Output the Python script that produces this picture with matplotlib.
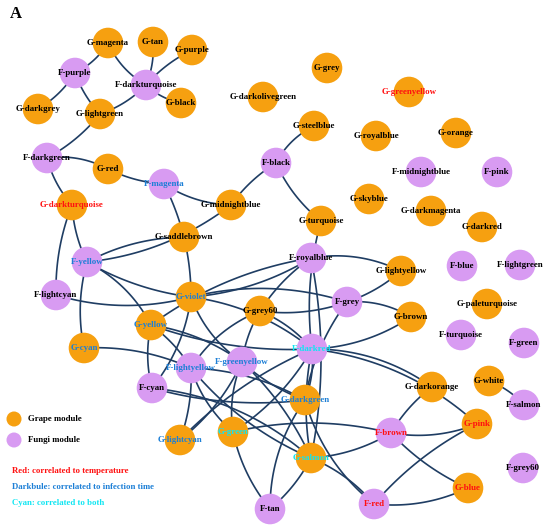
import numpy as np
import matplotlib
matplotlib.use("Agg")
import matplotlib.pyplot as plt
from matplotlib.patches import Circle

# Grape (G-) and fungi (F-) co-expression modules
grape_modules = [
    "G-magenta", "G-tan", "G-purple", "G-black", "G-darkgrey", "G-lightgreen",
    "G-red", "G-darkturquoise", "G-midnightblue", "G-saddlebrown", "G-darkolivegreen",
    "G-grey", "G-greenyellow", "G-steelblue", "G-royalblue", "G-orange", "G-skyblue",
    "G-darkmagenta", "G-darkred", "G-turquoise", "G-lightyellow", "G-brown",
    "G-paleturquoise", "G-darkorange", "G-white", "G-darkgreen", "G-pink", "G-salmon",
    "G-blue", "G-violet", "G-grey60", "G-yellow", "G-cyan", "G-green", "G-lightcyan",
]
fungi_modules = [
    "F-purple", "F-darkturquoise", "F-darkgreen", "F-magenta", "F-black",
    "F-midnightblue", "F-pink", "F-royalblue", "F-blue", "F-lightgreen", "F-grey",
    "F-turquoise", "F-green", "F-darkred", "F-salmon", "F-brown", "F-grey60", "F-red",
    "F-tan", "F-yellow", "F-lightcyan", "F-greenyellow", "F-lightyellow", "F-cyan",
]

# modules correlated to a trait (label colour)
temperature_modules = ["G-greenyellow", "G-darkturquoise", "F-brown", "G-pink", "F-red", "G-blue"]
infection_modules = ["F-magenta", "F-yellow", "G-violet", "G-yellow", "G-cyan", "F-lightyellow",
                     "F-greenyellow", "G-lightcyan", "G-darkgreen"]
both_modules = ["F-darkred", "G-green", "G-salmon"]

# correlations between grape and fungi modules
edges = [
    ("F-purple", "G-magenta"), ("F-purple", "G-darkgrey"), ("F-purple", "G-lightgreen"),
    ("F-darkturquoise", "G-magenta"), ("F-darkturquoise", "G-tan"), ("F-darkturquoise", "G-purple"),
    ("F-darkturquoise", "G-black"), ("F-darkturquoise", "G-lightgreen"),
    ("F-darkgreen", "G-lightgreen"), ("F-darkgreen", "G-red"), ("F-darkgreen", "G-darkturquoise"),
    ("F-magenta", "G-red"), ("F-magenta", "G-midnightblue"), ("F-magenta", "G-violet"),
    ("F-black", "G-midnightblue"), ("F-black", "G-steelblue"), ("F-black", "G-turquoise"),
    ("F-yellow", "G-darkturquoise"), ("F-yellow", "G-midnightblue"), ("F-yellow", "G-saddlebrown"),
    ("F-yellow", "G-violet"), ("F-yellow", "G-yellow"), ("F-yellow", "G-cyan"),
    ("F-lightcyan", "G-darkturquoise"), ("F-lightcyan", "G-violet"),
    ("F-royalblue", "G-violet"), ("F-royalblue", "G-grey60"), ("F-royalblue", "G-lightyellow"),
    ("F-royalblue", "G-yellow"), ("F-royalblue", "G-salmon"),
    ("F-grey", "G-violet"), ("F-grey", "G-grey60"), ("F-grey", "G-lightyellow"),
    ("F-grey", "G-brown"), ("F-grey", "G-darkgreen"),
    ("F-darkred", "G-turquoise"), ("F-darkred", "G-brown"), ("F-darkred", "G-darkgreen"),
    ("F-darkred", "G-salmon"), ("F-darkred", "G-darkorange"), ("F-darkred", "G-grey60"),
    ("F-darkred", "G-yellow"), ("F-darkred", "G-violet"), ("F-darkred", "G-green"),
    ("F-darkred", "G-lightcyan"), ("F-darkred", "G-pink"),
    ("F-lightyellow", "G-cyan"), ("F-lightyellow", "G-lightcyan"), ("F-lightyellow", "G-green"),
    ("F-lightyellow", "G-darkgreen"), ("F-lightyellow", "G-yellow"), ("F-lightyellow", "G-grey60"),
    ("F-lightyellow", "G-salmon"),
    ("F-greenyellow", "G-grey60"), ("F-greenyellow", "G-green"), ("F-greenyellow", "G-lightcyan"),
    ("F-greenyellow", "G-darkgreen"), ("F-greenyellow", "G-violet"), ("F-greenyellow", "G-yellow"),
    ("F-greenyellow", "G-salmon"),
    ("F-cyan", "G-violet"), ("F-cyan", "G-yellow"), ("F-cyan", "G-darkgreen"), ("F-cyan", "G-salmon"),
    ("F-brown", "G-green"), ("F-brown", "G-darkorange"), ("F-brown", "G-pink"),
    ("F-brown", "G-salmon"), ("F-brown", "G-blue"),
    ("F-red", "G-darkgreen"), ("F-red", "G-salmon"), ("F-red", "G-pink"), ("F-red", "G-blue"),
    ("F-tan", "G-green"), ("F-tan", "G-salmon"), ("F-tan", "G-darkgreen"),
    ("F-salmon", "G-white"),
]

# layout (pixel coordinates of the drawn network)
pos = {
    "G-magenta": (108, 43), "G-tan": (153, 42), "G-purple": (192, 50),
    "F-purple": (75, 73), "F-darkturquoise": (146, 85), "G-black": (181, 103),
    "G-darkgrey": (38, 109), "G-lightgreen": (100, 114), "F-darkgreen": (47, 158),
    "G-red": (108, 169), "F-magenta": (164, 184), "G-darkturquoise": (72, 205),
    "G-midnightblue": (231, 205), "G-saddlebrown": (184, 237), "G-darkolivegreen": (263, 97),
    "F-black": (276, 163), "G-grey": (327, 68), "G-greenyellow": (409, 92),
    "G-steelblue": (314, 126), "G-royalblue": (376, 136), "G-orange": (456, 133),
    "F-midnightblue": (421, 172), "F-pink": (497, 172), "G-skyblue": (369, 199),
    "G-darkmagenta": (431, 211), "G-darkred": (482, 227), "G-turquoise": (321, 221),
    "F-royalblue": (311, 258), "G-lightyellow": (401, 271), "F-blue": (462, 266),
    "F-lightgreen": (520, 265), "F-grey": (347, 302), "G-brown": (411, 317),
    "G-paleturquoise": (487, 304), "F-turquoise": (461, 335), "F-green": (524, 343),
    "F-darkred": (312, 349), "G-darkorange": (432, 387), "G-white": (489, 381),
    "F-salmon": (524, 405), "G-darkgreen": (305, 400), "F-brown": (391, 433),
    "G-pink": (477, 424), "G-salmon": (311, 458), "F-grey60": (523, 468),
    "G-blue": (468, 488), "F-red": (374, 504), "F-tan": (270, 509),
    "F-yellow": (87, 262), "F-lightcyan": (56, 295), "G-violet": (191, 297),
    "G-grey60": (260, 311), "G-yellow": (151, 325), "G-cyan": (84, 348),
    "F-greenyellow": (242, 362), "F-lightyellow": (191, 368), "F-cyan": (152, 388),
    "G-green": (233, 432), "G-lightcyan": (180, 440),
}

GRAPE_COLOR = "#F6A010"
FUNGI_COLOR = "#D89BF2"
EDGE_COLOR = "#1F3D63"
FONT = "Liberation Serif"


def label_color(name):
    if name in temperature_modules:
        return "#FF1010"
    if name in infection_modules:
        return "#1C7FD6"
    if name in both_modules:
        return "#10E6F2"
    return "black"


def curved(p0, p1, rad, n=40):
    # quadratic bezier between two nodes
    p0, p1 = np.array(p0, float), np.array(p1, float)
    d = p1 - p0
    ctrl = (p0 + p1) / 2 + rad * np.array([-d[1], d[0]])
    t = np.linspace(0, 1, n)[:, None]
    return (1 - t) ** 2 * p0 + 2 * t * (1 - t) * ctrl + t ** 2 * p1


fig = plt.figure(figsize=(5.5, 5.28), dpi=100)
ax = fig.add_axes([0, 0, 1, 1])
ax.set_xlim(0, 550)
ax.set_ylim(528, 0)
ax.set_aspect("equal")
ax.axis("off")

bends = [0.14, -0.12, 0.1, -0.16, 0.12, -0.1]
for i, (a, b) in enumerate(edges):
    pts = curved(pos[a], pos[b], bends[i % len(bends)])
    ax.plot(pts[:, 0], pts[:, 1], color=EDGE_COLOR, lw=1.2, zorder=1, solid_capstyle="round")

for name in grape_modules + fungi_modules:
    color = GRAPE_COLOR if name.startswith("G-") else FUNGI_COLOR
    ax.add_patch(Circle(pos[name], 15.3, facecolor=color, edgecolor="none", zorder=2))
    ax.text(pos[name][0], pos[name][1], name, ha="center", va="center", fontsize=6.4,
            fontweight="bold", family=FONT, color=label_color(name), zorder=3)

# legend
ax.add_patch(Circle((14, 419), 7.5, facecolor=GRAPE_COLOR, edgecolor="none"))
ax.add_patch(Circle((14, 440), 7.5, facecolor=FUNGI_COLOR, edgecolor="none"))
ax.text(28, 419, "Grape module", va="center", fontsize=6.3, fontweight="bold", family=FONT)
ax.text(28, 440, "Fungi module", va="center", fontsize=6.3, fontweight="bold", family=FONT)
ax.text(12, 471, "Red: correlated to temperature", va="center", fontsize=6.3,
        fontweight="bold", family=FONT, color="#FF1010")
ax.text(12, 487, "Darkbule: correlated to infection time", va="center", fontsize=6.3,
        fontweight="bold", family=FONT, color="#1C7FD6")
ax.text(12, 503, "Cyan: correlated to both", va="center", fontsize=6.3,
        fontweight="bold", family=FONT, color="#10E6F2")

ax.text(10, 14, "A", va="center", fontsize=12, fontweight="bold", family=FONT)

fig.savefig("out.png", dpi=100)
